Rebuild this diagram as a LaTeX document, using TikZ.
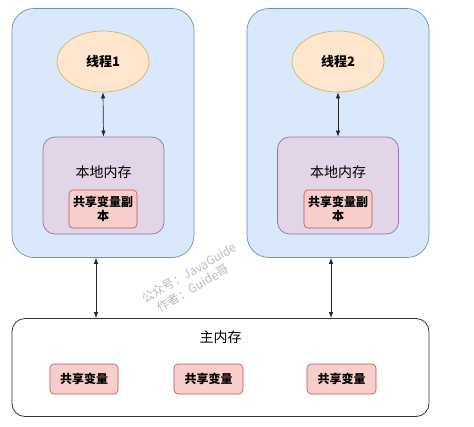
\documentclass[tikz,border=0pt]{standalone}
\usepackage{fontspec}
\setmainfont{Liberation Sans}
\newfontfamily\cjk{Noto Sans CJK SC}
\usetikzlibrary{arrows.meta,shapes.geometric}
\definecolor{bluefill}{HTML}{DAE8FC}
\definecolor{bluedraw}{HTML}{6C8EBF}
\definecolor{orfill}{HTML}{FFE6CC}
\definecolor{ordraw}{HTML}{D6B656}
\definecolor{pufill}{HTML}{E1D5E7}
\definecolor{pudraw}{HTML}{9673A6}
\definecolor{refill}{HTML}{F8CECC}
\definecolor{redraw}{HTML}{B85450}
\tikzset{
  threadbox/.style={draw=bluedraw, fill=bluefill, rounded corners=22pt, line width=0.7pt, minimum width=182pt, minimum height=249pt},
  threadell/.style={draw=ordraw, fill=orfill, ellipse, line width=0.7pt, minimum width=92pt, minimum height=61pt, font=\cjk\bfseries\fontsize{13}{15}\selectfont},
  localbox/.style={draw=pudraw, fill=pufill, rounded corners=12pt, line width=0.7pt, minimum width=121pt, minimum height=97pt},
  varbox/.style={draw=redraw, fill=refill, rounded corners=4pt, line width=0.6pt, font=\cjk\bfseries\fontsize{12}{14}\selectfont, inner sep=0pt},
  mainbox/.style={draw=black!80, fill=white, rounded corners=13pt, line width=0.8pt, minimum width=417pt, minimum height=98pt},
  title/.style={font=\cjk\fontsize{14}{16}\selectfont},
  link/.style={{Latex[length=6pt,width=4.5pt]}-{Latex[length=6pt,width=4.5pt]}, line width=0.7pt, black!85},
  wmark/.style={rotate=30, text=black!28, inner sep=0pt, font=\cjk\fontsize{12}{14}\selectfont},
}
\begin{document}
\begin{tikzpicture}[x=1pt,y=-1pt]
\useasboundingbox (0,0) rectangle (474,426);
% thread containers
\node[threadbox] (t1) at (103,133) {};
\node[threadbox] (t2) at (338,133) {};
% threads
\node[threadell] (e1) at (103,61.5) {线程1};
\node[threadell] (e2) at (338,61.5) {线程2};
% local memory
\node[localbox] (l1) at (103.5,185.5) {};
\node[localbox] (l2) at (338,185.5) {};
\node[title] (lt1) at (103.5,172) {本地内存};
\node[title] (lt2) at (338,172) {本地内存};
\node[varbox, minimum width=68pt, minimum height=38pt, align=center] (c1) at (103,209) {共享变量副\\本};
\node[varbox, minimum width=68pt, minimum height=38pt, align=center] (c2) at (338,209) {共享变量副\\本};
% main memory
\node[mainbox] (m) at (220.5,367.5) {};
\node[title] (mt) at (220.5,337) {主内存};
\node[varbox, minimum width=68pt, minimum height=30pt] (v1) at (84,379) {共享变量};
\node[varbox, minimum width=69pt, minimum height=30pt] (v2) at (208.5,379) {共享变量};
\node[varbox, minimum width=69pt, minimum height=30pt] (v3) at (341.5,379) {共享变量};
% connectors
\draw[link] (e1.south) -- (l1.north);
\draw[link] (e2.south) -- (l2.north);
\draw[link] (t1.south -| 96,0) -- (m.north -| 96,0);
\draw[link] (t2.south -| 331,0) -- (m.north -| 331,0);
% watermark
\node[wmark] (wm1) at (189,273) {公众号：JavaGuide};
\node[wmark] (wm2) at (193,288) {作者：Guide哥};
\end{tikzpicture}
\end{document}
